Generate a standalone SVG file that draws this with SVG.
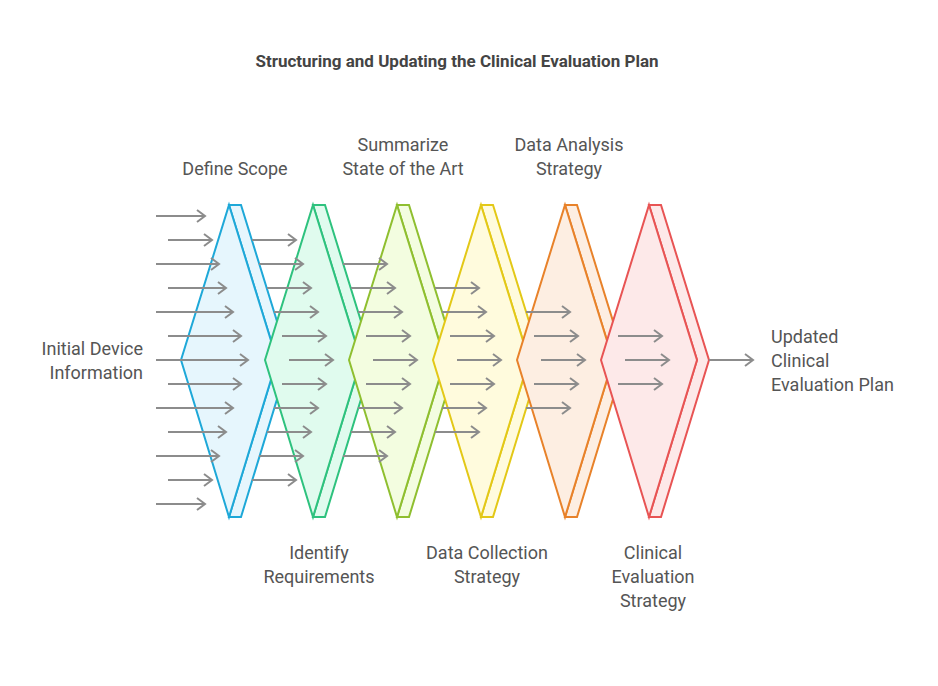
<svg xmlns="http://www.w3.org/2000/svg" width="938" height="686" viewBox="0 0 938 686">
<style>
.t{font-family:Roboto,"Liberation Sans",sans-serif;font-size:18px;fill:#555}
.title{font-family:Roboto,"Liberation Sans",sans-serif;font-size:17px;font-weight:bold;fill:#444}
.a{stroke:#8c8c8c;stroke-width:2;fill:none}
</style>
<defs>
<marker id="ah" markerWidth="12" markerHeight="14" refX="10" refY="7" orient="auto" markerUnits="userSpaceOnUse">
<path d="M2,1 L10,7 L2,13" fill="none" stroke="#8c8c8c" stroke-width="2"/>
</marker>
<g id="chev">
<path d="M0,0 L12,0 L60,155 L12,312 L0,312 L48,155 Z"/>
<path d="M0,0 L48,155 L0,312 L-48,155 Z"/>
</g>
</defs>
<rect width="938" height="686" fill="#fff"/>
<text class="title" x="457" y="67" text-anchor="middle">Structuring and Updating the Clinical Evaluation Plan</text>
<g id="n1" stroke-width="2"><use href="#chev" x="229" y="205" fill="#e6f6fd" stroke="#1ea8d8"/></g>
<g id="n2" stroke-width="2"><use href="#chev" x="313" y="205" fill="#e0fbee" stroke="#2ec27e"/></g>
<g id="n3" stroke-width="2"><use href="#chev" x="397" y="205" fill="#f3fde0" stroke="#8fbf30"/></g>
<g id="n4" stroke-width="2"><use href="#chev" x="481" y="205" fill="#fffbdd" stroke="#e3c817"/></g>
<g id="n5" stroke-width="2"><use href="#chev" x="565" y="205" fill="#fdeee2" stroke="#e8822a"/></g>
<g id="n6" stroke-width="2"><use href="#chev" x="649" y="205" fill="#fde9e9" stroke="#e85454"/></g>
<g id="connectors" class="a" marker-end="url(#ah)">
<path d="M156,216H205"/><path d="M168,240H212"/><path d="M156,264H219"/><path d="M168,288H226"/><path d="M156,312H233"/><path d="M168,336H241"/><path d="M156,360H248"/><path d="M168,384H241"/><path d="M156,408H233"/><path d="M168,432H226"/><path d="M156,456H219"/><path d="M168,480H212"/><path d="M156,504H205"/>
<path d="M252,240H296"/><path d="M259,264H303"/><path d="M267,288H311"/><path d="M274,312H318"/><path d="M282,336H326"/><path d="M289,360H333"/><path d="M282,384H326"/><path d="M274,408H318"/><path d="M267,432H311"/><path d="M259,456H303"/><path d="M252,480H296"/>
<path d="M343,264H387"/><path d="M351,288H395"/><path d="M358,312H402"/><path d="M366,336H410"/><path d="M373,360H417"/><path d="M366,384H410"/><path d="M358,408H402"/><path d="M351,432H395"/><path d="M343,456H387"/>
<path d="M435,288H479"/><path d="M442,312H486"/><path d="M450,336H494"/><path d="M457,360H501"/><path d="M450,384H494"/><path d="M442,408H486"/><path d="M435,432H479"/>
<path d="M526,312H570"/><path d="M534,336H578"/><path d="M541,360H585"/><path d="M534,384H578"/><path d="M526,408H570"/>
<path d="M618,336H662"/><path d="M625,360H669"/><path d="M618,384H662"/>
<path d="M709,360H753"/>
</g>
<g id="labels" class="t">
<text x="235" y="175" text-anchor="middle">Define Scope</text>
<text x="403" y="151" text-anchor="middle">Summarize</text><text x="403" y="175" text-anchor="middle">State of the Art</text>
<text x="569" y="151" text-anchor="middle">Data Analysis</text><text x="569" y="175" text-anchor="middle">Strategy</text>
<text x="319" y="559" text-anchor="middle">Identify</text><text x="319" y="583" text-anchor="middle">Requirements</text>
<text x="487" y="559" text-anchor="middle">Data Collection</text><text x="487" y="583" text-anchor="middle">Strategy</text>
<text x="653" y="559" text-anchor="middle">Clinical</text><text x="653" y="583" text-anchor="middle">Evaluation</text><text x="653" y="607" text-anchor="middle">Strategy</text>
<text x="143" y="355" text-anchor="end">Initial Device</text><text x="143" y="379" text-anchor="end">Information</text>
<text x="771" y="343">Updated</text><text x="771" y="367">Clinical</text><text x="771" y="391">Evaluation Plan</text>
</g>
</svg>
